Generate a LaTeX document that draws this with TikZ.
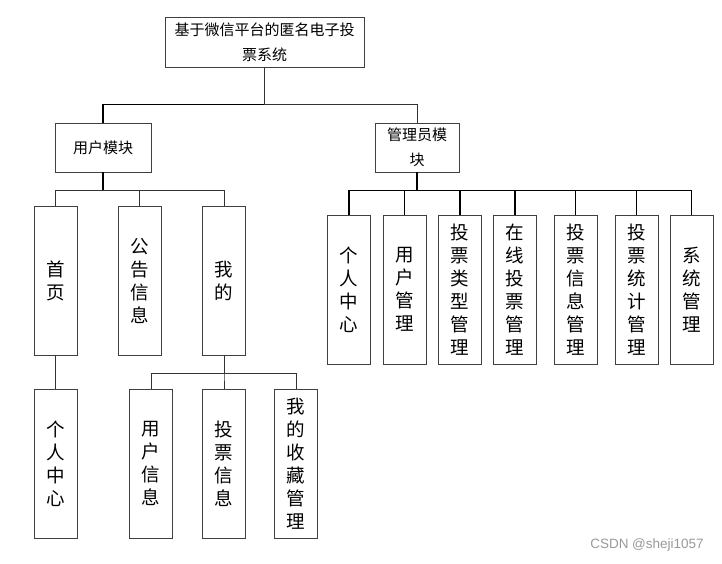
\documentclass[tikz,border=0pt]{standalone}
\usepackage{fontspec}
\setmainfont{Noto Sans CJK SC}
\newfontfamily\wmfont{Liberation Sans}
\usepackage{tikz}
\tikzstyle{chart}=[x=1pt,y=-1pt,line join=miter]
\tikzstyle{wire}=[-, draw=black, line width=1.4pt]
\tikzstyle{thin}=[-, draw=black!80, line width=1pt]
\tikzstyle{hbox}=[rectangle, inner sep=0pt, draw=black!75, line width=0.9pt, fill=white, align=center, font=\fontsize{15}{25}\selectfont]
\tikzstyle{vbox}=[rectangle, inner sep=0pt, draw=black!75, line width=0.9pt, fill=white, align=center, minimum width=43pt, minimum height=149pt, font=\fontsize{18.5}{23}\selectfont]

\begin{document}
\begin{tikzpicture}[chart]
				\useasboundingbox (0,0) rectangle (722,563);

				%The root
				\draw (264.5,42) node[hbox, minimum width=199pt, minimum height=50pt] (root) {基于微信平台的匿名电子投\\票系统};

				%The two modules
				\draw (103,147.5) node[hbox, minimum width=96pt, minimum height=49pt] (user) {用户模块};
				\draw (417,147.5) node[hbox, minimum width=84pt, minimum height=49pt] (admin) {管理员模\\块};

				%The user pages
				\draw (55.5,280.5) node[vbox] (u1) {首\\页};
				\draw (139.5,280.5) node[vbox] (u2) {公\\告\\信\\息};
				\draw (224,280.5) node[vbox] (u3) {我\\的};

				%The pages below
				\draw (55.5,463.5) node[vbox] (u11) {个\\人\\中\\心};
				\draw (151,463.5) node[vbox] (u31) {用\\户\\信\\息};
				\draw (224,463.5) node[vbox] (u32) {投\\票\\信\\息};
				\draw (296,463.5) node[vbox] (u33) {我\\的\\收\\藏\\管\\理};

				%The admin pages
				\draw (349,289.5) node[vbox] (a1) {个\\人\\中\\心};
				\draw (404.5,289.5) node[vbox] (a2) {用\\户\\管\\理};
				\draw (460,289.5) node[vbox] (a3) {投\\票\\类\\型\\管\\理};
				\draw (515,289.5) node[vbox] (a4) {在\\线\\投\\票\\管\\理};
				\draw (575.5,289.5) node[vbox] (a5) {投\\票\\信\\息\\管\\理};
				\draw (636.5,289.5) node[vbox] (a6) {投\\票\\统\\计\\管\\理};
				\draw (691.5,289.5) node[vbox] (a7) {系\\统\\管\\理};

				%The links
				\draw[wire] (root.south) -- ++(0,37) -| (user.north);
				\draw[thin] (root.south) -- ++(0,37) -| (admin.north);

				\foreach \c in {u1,u2,u3}
					\draw[thin] (user.south) -- ++(0,18) -| (\c.north);
				\draw[wire] (user.south) -- ++(0,18);

				\draw[thin] (u1.south) -- (u11.north);
				\foreach \c in {u31,u32,u33}
					\draw[thin] (u3.south) -- ++(0,18) -| (\c.north);

				\foreach \c in {a1,a2,a3,a4,a5,a6,a7}
					\draw[wire] (admin.south) -- ++(0,18) -| (\c.north);

				%The mark
				\node[text=black!40, font=\wmfont\fontsize{13.5}{15}\selectfont] (mark) at (647,545) {CSDN @sheji1057};
			\end{tikzpicture}
\end{document}
